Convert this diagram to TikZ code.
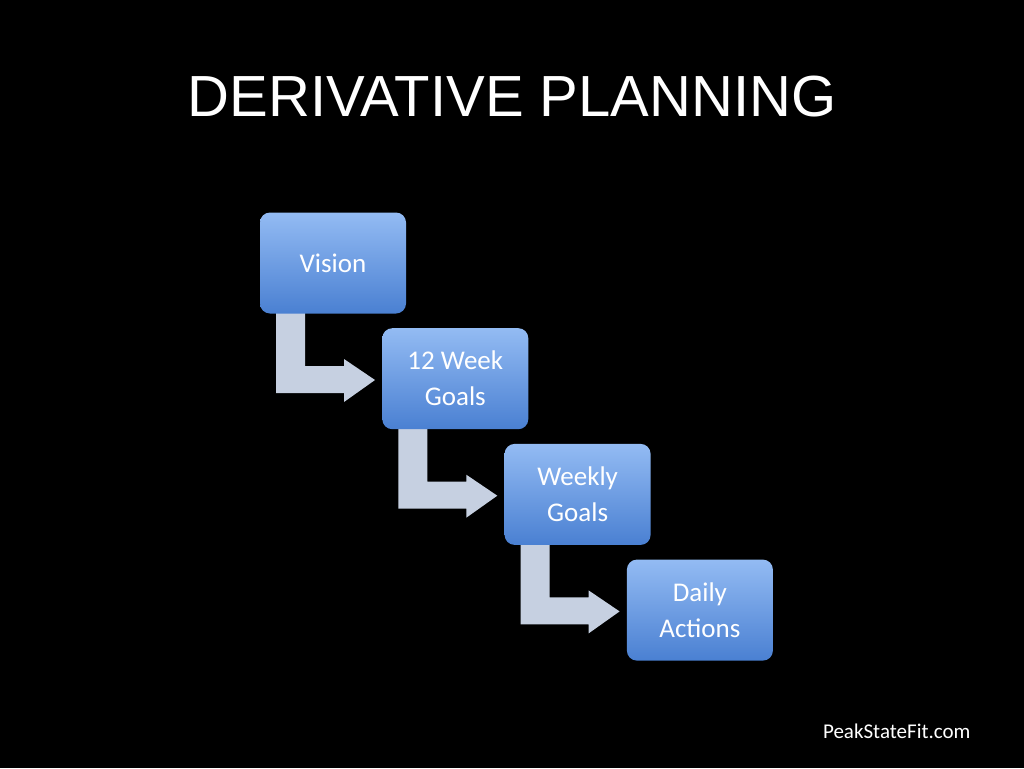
\documentclass[tikz,border=0pt]{standalone}
\usepackage{fontspec}
\setmainfont{Carlito}
\newfontfamily\titlefont{Liberation Sans}
\begin{document}
\begin{tikzpicture}[x=1pt,y=-1pt,
  box/.style={rounded corners=10pt,top color=boxtop,bottom color=boxbot,draw=none,
    minimum width=146pt,minimum height=101pt,text=white,align=center,
    font=\fontsize{27}{36}\selectfont,inner sep=0pt},
  bent/.style={fill=arrowc,draw=none}]
\definecolor{boxtop}{HTML}{93BBF3}
\definecolor{boxbot}{HTML}{4A80D2}
\definecolor{arrowc}{HTML}{C6D0E1}
\fill[black] (0,0) rectangle (1024,768);
\useasboundingbox (0,0) rectangle (1024,768);
\node[text=white,font=\titlefont\fontsize{58}{60}\selectfont] (title) at (512,97) {DERIVATIVE PLANNING};
\foreach \i/\n/\t in {0/b1/Vision,1/b2/{12 Week\\Goals},2/b3/{Weekly\\Goals},3/b4/{Daily\\Actions}}{
  \pgfmathsetmacro\dx{\i*122.3}
  \pgfmathsetmacro\dy{\i*115.7}
  \begin{scope}[shift={(\dx,\dy)}]
  \ifnum\i<3
  \fill[arrowc] (276,313) -- (305,313) -- (305,366) -- (344,366) -- (344,359) -- (375,380) -- (344,402) -- (344,393) -- (276,393) -- cycle;
  \fi
  \end{scope}
}
\node[box] (b1) at (333,263) {Vision};
\node[box] (b2) at (455.3,378.7) {12 Week\\Goals};
\node[box] (b3) at (577.6,494.4) {Weekly\\Goals};
\node[box] (b4) at (699.9,610.1) {Daily\\Actions};
\node[text=white,font=\fontsize{21}{24}\selectfont,anchor=east] (foot) at (974,731) {PeakStateFit.com};
\end{tikzpicture}
\end{document}
